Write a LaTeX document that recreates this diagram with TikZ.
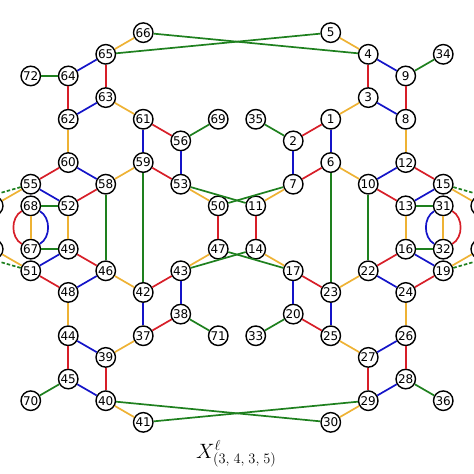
\documentclass[tikz,border=0pt]{standalone}
\usepackage{fontspec}
\setsansfont{DejaVu Sans}
\definecolor{edgered}{RGB}{215,30,40}
\definecolor{edgeblue}{RGB}{20,20,200}
\definecolor{edgeorange}{RGB}{238,178,52}
\definecolor{edgegreen}{RGB}{30,128,30}

\begin{document}
\begin{tikzpicture}[x=37.5pt, y=21.65pt,
        vtx/.style={circle, draw=black, fill=white, line width=1.4pt, minimum size=19.5pt, inner sep=0pt, font=\sffamily\fontsize{12}{13}\selectfont},
        redline/.style={draw=edgered, line width=1.7pt},
        blueline/.style={draw=edgeblue, line width=1.7pt},
        orangeline/.style={draw=edgeorange, line width=1.7pt},
        greenline/.style={draw=edgegreen, line width=1.7pt},
        wrapline/.style={greenline, dash pattern=on 3.5pt off 2pt}]
                \useasboundingbox (-237pt,-246.5pt) rectangle (237pt,227.5pt);
                \clip (-237pt,-246.5pt) rectangle (237pt,227.5pt);

                % vertices
                \foreach \name/\px/\py in {1/2.5/5, 2/1.5/4, 3/3.5/6, 4/3.5/8, 5/2.5/9, 6/2.5/3, 7/1.5/2, 8/4.5/5, 9/4.5/7, 10/3.5/2,
                        11/0.5/1, 12/4.5/3, 13/4.5/1, 14/0.5/-1, 15/5.5/2, 16/4.5/-1, 17/1.5/-2, 19/5.5/-2, 20/1.5/-4,
                        22/3.5/-2, 23/2.5/-3, 24/4.5/-3, 25/2.5/-5, 26/4.5/-5, 27/3.5/-6, 28/4.5/-7, 29/3.5/-8, 30/2.5/-9,
                        31/5.5/1, 32/5.5/-1, 33/0.5/-5, 34/5.5/8, 35/0.5/5, 36/5.5/-8, 37/-2.5/-5, 38/-1.5/-4, 39/-3.5/-6,
                        40/-3.5/-8, 41/-2.5/-9, 42/-2.5/-3, 43/-1.5/-2, 44/-4.5/-5, 45/-4.5/-7, 46/-3.5/-2, 47/-0.5/-1,
                        48/-4.5/-3, 49/-4.5/-1, 50/-0.5/1, 51/-5.5/-2, 52/-4.5/1, 53/-1.5/2, 55/-5.5/2, 56/-1.5/4,
                        58/-3.5/2, 59/-2.5/3, 60/-4.5/3, 61/-2.5/5, 62/-4.5/5, 63/-3.5/6, 64/-4.5/7, 65/-3.5/8, 66/-2.5/9,
                        67/-5.5/-1, 68/-5.5/1, 69/-0.5/5, 70/-5.5/-8, 71/-0.5/-5, 72/-5.5/7}
                \node[vtx] (v\name) at (\px,\py) {\name};

                % vertices cut by the frame
                \node[vtx] (pl1) at (-6.5,1) {};
                \node[vtx] (pl2) at (-6.5,-1) {};
                \node[vtx] (pr1) at (6.5,1) {};
                \node[vtx] (pr2) at (6.5,-1) {};
                \coordinate (ol1) at (-7.5,1);
                \coordinate (ol2) at (-7.5,-1);
                \coordinate (or1) at (7.5,1);
                \coordinate (or2) at (7.5,-1);

                \foreach \a/\b in {65/63, 64/62, 61/56, 4/3, 9/8, 1/2, 60/55, 59/53, 58/52, 49/46, 51/48, 42/43, 50/47,
                        6/7, 12/15, 10/13, 16/22, 24/19, 17/23, 11/14, 37/38, 44/45, 39/40, 20/25, 26/28, 27/29}
                \draw[redline] (v\a) -- (v\b);
                \foreach \a/\b in {64/65, 63/62, 61/59, 56/53, 4/9, 3/8, 1/6, 2/7, 60/58, 55/52, 49/51, 48/46, 43/38,
                        42/37, 10/12, 15/13, 16/19, 22/24, 17/20, 23/25, 44/39, 45/40, 27/26, 28/29}
                \draw[blueline] (v\a) -- (v\b);
                \foreach \a/\b in {66/65, 63/61, 62/60, 5/4, 3/1, 8/12, 59/58, 53/50, 52/49, 46/42, 43/47, 48/44, 7/11,
                        6/10, 13/16, 23/22, 17/14, 24/26, 37/39, 40/41, 25/27, 29/30, 68/67, 31/32}
                \draw[orangeline] (v\a) -- (v\b);
                \foreach \a/\b in {72/64, 56/69, 9/34, 35/2, 66/4, 65/5, 59/42, 58/46, 53/11, 7/50, 68/52, 67/49, 43/14,
                        17/47, 6/23, 10/22, 13/31, 16/32, 38/71, 20/33, 45/70, 28/36, 40/30, 41/29}
                \draw[greenline] (v\a) -- (v\b);

                % double edges
                \draw[redline] (v68) to[bend right=60] (v67);
                \draw[blueline] (v68) to[bend left=60] (v67);
                \draw[blueline] (v31) to[bend right=60] (v32);
                \draw[redline] (v31) to[bend left=60] (v32);

                % edges leaving the frame
                \draw[orangeline] (v55) -- (pl1);
                \draw[orangeline] (v51) -- (pl2);
                \draw[orangeline] (v15) -- (pr1);
                \draw[orangeline] (v19) -- (pr2);
                \draw[wrapline] (v55) -- (ol1);
                \draw[wrapline] (v51) -- (ol2);
                \draw[wrapline] (v15) -- (or1);
                \draw[wrapline] (v19) -- (or2);

                \node[anchor=base west, inner sep=0pt] (title) at (-41pt,-231pt) {\fontsize{20}{24}\selectfont $X^{\ell}_{(3,\mkern5mu 4,\mkern5mu 3,\mkern5mu 5)}$};
            \end{tikzpicture}
\end{document}
